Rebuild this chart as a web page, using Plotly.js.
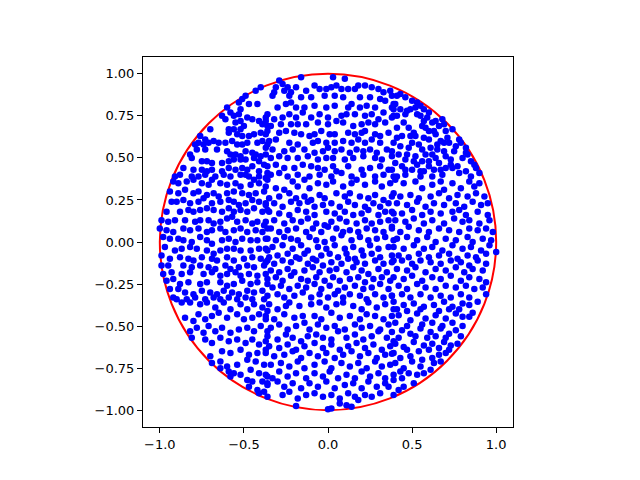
<!DOCTYPE html>
<html>
<head>
<meta charset="utf-8">
<script src="https://cdn.plot.ly/plotly-3.0.1.min.js"></script>
<style>html,body{margin:0;padding:0;background:#fff;}#chart{width:640px;height:480px;}</style>
</head>
<body>
<div id="chart"></div>
<script>
// Points, grouped by region of the disc: [x, y]
const upperLeft = [[-0.40,0.92],[-0.43,0.90],[-0.49,0.87],[-0.51,0.85],[-0.47,0.82],[-0.53,0.83],[-0.42,0.82],[-0.60,0.80],[-0.58,0.77],[-0.56,0.75],[-0.53,0.76],[-0.52,0.79],[-0.63,0.75],[-0.61,0.73],[-0.55,0.71],[-0.52,0.72],[-0.48,0.74],[-0.45,0.73],[-0.41,0.72],[-0.37,0.74],[-0.39,0.70],[-0.36,0.69],[-0.50,0.69],[-0.52,0.67],[-0.56,0.67],[-0.59,0.67],[-0.70,0.67],[-0.59,0.65],[-0.54,0.64],[-0.51,0.63],[-0.47,0.63],[-0.44,0.64],[-0.40,0.65],[-0.37,0.64],[-0.76,0.63],[-0.73,0.61],[-0.77,0.59],[-0.71,0.59],[-0.68,0.60],[-0.65,0.59],[-0.61,0.59],[-0.57,0.60],[-0.54,0.58],[-0.51,0.58],[-0.48,0.59],[-0.42,0.59],[-0.39,0.60],[-0.36,0.58],[-0.79,0.58],[-0.74,0.58],[-0.82,0.52],[-0.78,0.55],[-0.73,0.55],[-0.66,0.55],[-0.60,0.54],[-0.58,0.52],[-0.55,0.52],[-0.52,0.51],[-0.49,0.54],[-0.45,0.53],[-0.43,0.52],[-0.40,0.51],[-0.37,0.52],[-0.81,0.50],[-0.75,0.48],[-0.72,0.48],[-0.69,0.47],[-0.63,0.47],[-0.59,0.48],[-0.56,0.49],[-0.52,0.49],[-0.49,0.49],[-0.44,0.50],[-0.41,0.48],[-0.38,0.46],[-0.86,0.44],[-0.80,0.43],[-0.75,0.43],[-0.72,0.42],[-0.69,0.43],[-0.63,0.42],[-0.59,0.44],[-0.55,0.43],[-0.51,0.44],[-0.48,0.43],[-0.45,0.45],[-0.41,0.42],[-0.36,0.41],[-0.91,0.39],[-0.88,0.40],[-0.81,0.39],[-0.77,0.39],[-0.73,0.40],[-0.67,0.39],[-0.62,0.40],[-0.58,0.39],[-0.52,0.40],[-0.49,0.40],[-0.47,0.39],[-0.41,0.39],[-0.37,0.38]];

const upperMid = [[-0.16,0.98],[0.03,0.98],[0.10,0.97],[-0.29,0.96],[-0.31,0.92],[-0.27,0.94],[-0.24,0.92],[-0.19,0.92],[-0.26,0.90],[-0.22,0.89],[-0.13,0.90],[-0.08,0.93],[-0.05,0.91],[-0.01,0.91],[0.02,0.92],[0.05,0.93],[0.08,0.91],[0.12,0.91],[0.16,0.91],[0.18,0.93],[0.22,0.93],[0.26,0.92],[0.30,0.91],[0.33,0.89],[0.37,0.90],[-0.33,0.87],[-0.32,0.89],[-0.23,0.87],[-0.16,0.86],[-0.10,0.86],[-0.02,0.87],[0.04,0.87],[0.09,0.86],[0.19,0.86],[0.25,0.86],[0.31,0.85],[0.34,0.84],[0.39,0.82],[-0.30,0.80],[-0.25,0.82],[-0.22,0.83],[-0.19,0.80],[-0.14,0.80],[-0.08,0.81],[-0.01,0.80],[0.04,0.81],[0.12,0.80],[0.14,0.82],[0.19,0.80],[0.23,0.81],[0.28,0.80],[0.38,0.80],[-0.36,0.76],[-0.32,0.73],[-0.27,0.74],[-0.23,0.76],[-0.19,0.74],[-0.15,0.77],[-0.10,0.74],[-0.05,0.76],[0.00,0.74],[0.08,0.75],[0.11,0.76],[0.16,0.76],[0.22,0.75],[0.26,0.76],[0.30,0.73],[0.33,0.77],[0.39,0.75],[-0.37,0.72],[-0.34,0.69],[-0.28,0.70],[-0.22,0.70],[-0.18,0.70],[-0.13,0.70],[-0.06,0.71],[0.00,0.70],[0.05,0.72],[0.09,0.71],[0.15,0.69],[0.20,0.70],[0.24,0.71],[0.28,0.70],[0.34,0.71],[-0.36,0.66],[-0.29,0.65],[-0.25,0.66],[-0.20,0.65],[-0.16,0.64],[-0.11,0.63],[-0.08,0.64],[-0.04,0.66],[0.01,0.64],[0.04,0.64],[0.12,0.65],[0.16,0.64],[0.20,0.65],[0.22,0.66],[0.28,0.64],[0.31,0.63],[0.36,0.65],[-0.35,0.60],[-0.31,0.61],[-0.23,0.59],[-0.18,0.58],[-0.09,0.59],[-0.06,0.60],[-0.01,0.59],[0.04,0.59],[0.09,0.60],[0.14,0.59],[0.18,0.61],[0.22,0.59],[0.26,0.61],[0.31,0.59],[0.39,0.59],[-0.37,0.56],[-0.33,0.55],[-0.26,0.54],[-0.21,0.55],[-0.14,0.55],[-0.08,0.53],[-0.03,0.54],[0.00,0.56],[0.04,0.54],[0.08,0.55],[0.13,0.53],[0.17,0.55],[0.21,0.54],[0.25,0.55],[0.29,0.53],[0.35,0.55],[-0.34,0.50],[-0.29,0.51],[-0.24,0.50],[-0.18,0.50],[-0.12,0.51],[-0.06,0.49],[-0.01,0.50],[0.03,0.50],[0.10,0.49],[0.15,0.50],[0.21,0.51],[0.28,0.50],[0.32,0.49],[0.38,0.51],[-0.36,0.45],[-0.31,0.46],[-0.26,0.44],[-0.20,0.44],[-0.15,0.46],[-0.10,0.45],[-0.06,0.44],[-0.02,0.43],[0.03,0.45],[0.05,0.42],[0.12,0.45],[0.20,0.43],[0.25,0.44],[0.31,0.45],[0.36,0.43],[-0.34,0.40],[-0.29,0.41],[-0.24,0.39],[-0.18,0.40],[-0.11,0.39],[-0.05,0.40],[0.02,0.39],[0.08,0.41],[0.14,0.39],[0.21,0.40],[0.28,0.39],[0.33,0.40],[0.39,0.39]];

const upperRight = [[0.38,0.87],[0.41,0.87],[0.43,0.88],[0.40,0.82],[0.53,0.83],[0.55,0.81],[0.52,0.80],[0.57,0.79],[0.47,0.78],[0.49,0.79],[0.46,0.76],[0.41,0.75],[0.38,0.74],[0.55,0.75],[0.60,0.77],[0.64,0.72],[0.68,0.73],[0.69,0.70],[0.66,0.69],[0.74,0.67],[0.60,0.66],[0.63,0.66],[0.56,0.69],[0.51,0.65],[0.49,0.63],[0.52,0.63],[0.44,0.63],[0.41,0.62],[0.57,0.62],[0.60,0.61],[0.67,0.60],[0.69,0.59],[0.72,0.59],[0.65,0.58],[0.79,0.59],[0.50,0.59],[0.54,0.58],[0.56,0.55],[0.61,0.56],[0.65,0.55],[0.69,0.54],[0.75,0.54],[0.82,0.53],[0.83,0.52],[0.47,0.52],[0.42,0.52],[0.38,0.54],[0.52,0.51],[0.58,0.52],[0.60,0.48],[0.56,0.48],[0.51,0.48],[0.46,0.49],[0.40,0.47],[0.66,0.47],[0.73,0.46],[0.73,0.49],[0.85,0.48],[0.87,0.46],[0.88,0.44],[0.38,0.43],[0.46,0.43],[0.50,0.43],[0.55,0.42],[0.63,0.43],[0.70,0.44],[0.74,0.44],[0.90,0.41],[0.41,0.39],[0.46,0.40],[0.55,0.39],[0.62,0.39],[0.68,0.40],[0.85,0.39],[0.78,0.61],[0.82,0.56],[0.71,0.62],[0.64,0.64],[0.58,0.68],[0.62,0.71],[0.59,0.74],[0.53,0.76],[0.45,0.71],[0.48,0.68],[0.43,0.79],[0.50,0.84],[0.46,0.86],[0.57,0.72],[0.70,0.66],[0.76,0.57],[0.80,0.50],[0.77,0.45],[0.82,0.42],[0.64,0.50],[0.70,0.51],[0.60,0.45],[0.53,0.46],[0.44,0.45],[0.48,0.56],[0.43,0.57],[0.41,0.68],[0.39,0.79],[0.62,0.52],[0.67,0.43],[0.78,0.41],[0.57,0.42]];

const middleLeft = [[-0.92,0.36],[-0.89,0.35],[-0.84,0.36],[-0.80,0.37],[-0.75,0.35],[-0.71,0.34],[-0.69,0.37],[-0.64,0.35],[-0.60,0.34],[-0.55,0.35],[-0.52,0.33],[-0.46,0.34],[-0.44,0.37],[-0.41,0.35],[-0.37,0.33],[-0.94,0.30],[-0.89,0.29],[-0.85,0.31],[-0.80,0.29],[-0.77,0.30],[-0.72,0.28],[-0.68,0.29],[-0.65,0.27],[-0.60,0.29],[-0.56,0.30],[-0.51,0.29],[-0.47,0.28],[-0.43,0.29],[-0.38,0.30],[-0.93,0.24],[-0.90,0.24],[-0.86,0.25],[-0.82,0.23],[-0.77,0.24],[-0.74,0.26],[-0.69,0.23],[-0.64,0.24],[-0.59,0.25],[-0.56,0.24],[-0.53,0.22],[-0.49,0.23],[-0.45,0.25],[-0.41,0.24],[-0.37,0.23],[-0.96,0.18],[-0.88,0.18],[-0.83,0.19],[-0.80,0.18],[-0.76,0.19],[-0.72,0.20],[-0.68,0.19],[-0.63,0.18],[-0.59,0.20],[-0.56,0.18],[-0.52,0.19],[-0.48,0.18],[-0.44,0.20],[-0.39,0.18],[-0.36,0.19],[-0.99,0.13],[-0.95,0.12],[-0.91,0.13],[-0.85,0.13],[-0.79,0.12],[-0.76,0.13],[-0.71,0.13],[-0.68,0.11],[-0.64,0.12],[-0.60,0.14],[-0.57,0.15],[-0.54,0.12],[-0.49,0.13],[-0.45,0.11],[-0.42,0.12],[-0.38,0.10],[-1.00,0.08],[-0.96,0.07],[-0.92,0.06],[-0.86,0.08],[-0.82,0.07],[-0.77,0.08],[-0.72,0.06],[-0.69,0.07],[-0.64,0.08],[-0.61,0.06],[-0.56,0.07],[-0.52,0.08],[-0.48,0.06],[-0.43,0.07],[-0.39,0.06],[-0.36,0.08],[-0.98,0.03],[-0.94,0.02],[-0.89,0.02],[-0.86,0.01],[-0.81,0.00],[-0.76,0.03],[-0.72,0.01],[-0.69,-0.01],[-0.63,0.01],[-0.59,0.02],[-0.55,0.00],[-0.51,0.02],[-0.46,0.01],[-0.42,0.01],[-0.37,0.02],[-0.97,-0.03],[-0.91,-0.05],[-0.87,-0.04],[-0.82,-0.03],[-0.78,-0.04],[-0.72,-0.05],[-0.68,-0.07],[-0.64,-0.05],[-0.60,-0.04],[-0.56,-0.04],[-0.52,-0.05],[-0.46,-0.05],[-0.41,-0.04],[-0.36,-0.05],[-0.99,-0.08],[-0.94,-0.10],[-0.88,-0.09],[-0.83,-0.10],[-0.80,-0.11],[-0.75,-0.09],[-0.69,-0.10],[-0.66,-0.11],[-0.60,-0.09],[-0.56,-0.11],[-0.50,-0.10],[-0.45,-0.09],[-0.40,-0.10],[-0.36,-0.11],[-0.99,-0.14],[-0.95,-0.14],[-0.86,-0.14],[-0.81,-0.15],[-0.76,-0.14],[-0.71,-0.15],[-0.67,-0.16],[-0.61,-0.14],[-0.58,-0.16],[-0.53,-0.15],[-0.48,-0.14],[-0.44,-0.15],[-0.38,-0.14],[-0.98,-0.19],[-0.93,-0.18],[-0.87,-0.19],[-0.82,-0.18],[-0.74,-0.19],[-0.69,-0.18],[-0.64,-0.20],[-0.60,-0.19],[-0.55,-0.18],[-0.52,-0.20],[-0.47,-0.19],[-0.42,-0.20],[-0.37,-0.19],[-0.96,-0.23],[-0.92,-0.22],[-0.88,-0.25],[-0.83,-0.24],[-0.76,-0.25],[-0.72,-0.24],[-0.64,-0.24],[-0.60,-0.26],[-0.56,-0.25],[-0.51,-0.23],[-0.46,-0.25],[-0.42,-0.24],[-0.36,-0.25],[-0.94,-0.28],[-0.89,-0.28],[-0.85,-0.30],[-0.80,-0.31],[-0.75,-0.29],[-0.70,-0.30],[-0.66,-0.31],[-0.62,-0.29],[-0.57,-0.30],[-0.53,-0.31],[-0.48,-0.29],[-0.44,-0.30],[-0.39,-0.29],[-0.92,-0.33],[-0.90,-0.34],[-0.84,-0.34],[-0.79,-0.33],[-0.73,-0.34],[-0.68,-0.33],[-0.64,-0.34],[-0.59,-0.33],[-0.54,-0.34],[-0.49,-0.33],[-0.45,-0.34],[-0.38,-0.34]];

const centre = [[-0.36,0.37],[-0.31,0.32],[-0.26,0.31],[-0.21,0.36],[-0.18,0.33],[-0.14,0.37],[-0.11,0.32],[-0.06,0.35],[-0.01,0.34],[0.03,0.36],[0.09,0.33],[0.14,0.35],[0.17,0.37],[0.22,0.34],[0.28,0.36],[0.32,0.33],[0.37,0.35],[-0.35,0.26],[-0.29,0.27],[-0.23,0.29],[-0.19,0.26],[-0.14,0.27],[-0.10,0.25],[-0.05,0.28],[-0.02,0.26],[0.05,0.29],[0.10,0.27],[0.13,0.29],[0.19,0.27],[0.24,0.26],[0.28,0.28],[0.33,0.25],[0.38,0.27],[-0.37,0.22],[-0.32,0.23],[-0.27,0.21],[-0.22,0.24],[-0.17,0.23],[-0.12,0.24],[-0.08,0.21],[-0.03,0.22],[0.02,0.23],[0.07,0.21],[0.12,0.24],[0.16,0.22],[0.22,0.21],[0.27,0.23],[0.31,0.21],[0.36,0.23],[-0.35,0.18],[-0.29,0.17],[-0.23,0.16],[-0.18,0.19],[-0.13,0.18],[-0.08,0.16],[-0.01,0.18],[0.04,0.17],[0.10,0.18],[0.15,0.16],[0.20,0.17],[0.24,0.19],[0.30,0.16],[0.34,0.18],[0.39,0.17],[-0.37,0.12],[-0.32,0.13],[-0.26,0.11],[-0.21,0.13],[-0.16,0.12],[-0.12,0.14],[-0.07,0.11],[-0.02,0.10],[0.02,0.12],[0.07,0.14],[0.11,0.12],[0.17,0.11],[0.22,0.13],[0.26,0.11],[0.31,0.12],[0.36,0.13],[-0.34,0.08],[-0.29,0.06],[-0.24,0.07],[-0.19,0.08],[-0.13,0.06],[-0.09,0.08],[-0.04,0.06],[0.00,0.09],[0.05,0.08],[0.09,0.06],[0.13,0.07],[0.18,0.06],[0.23,0.08],[0.28,0.07],[0.33,0.06],[0.38,0.09],[-0.36,0.02],[-0.31,0.01],[-0.26,0.03],[-0.22,0.02],[-0.18,0.01],[-0.11,0.03],[-0.07,0.01],[-0.02,0.00],[0.03,0.02],[0.08,0.04],[0.14,0.01],[0.19,0.03],[0.24,0.01],[0.29,0.02],[0.34,0.03],[0.39,0.01],[-0.37,-0.04],[-0.33,-0.03],[-0.27,-0.02],[-0.21,-0.04],[-0.16,-0.02],[-0.12,-0.05],[-0.06,-0.03],[-0.01,-0.04],[0.04,-0.02],[0.10,-0.04],[0.15,-0.03],[0.20,-0.05],[0.25,-0.02],[0.30,-0.04],[0.36,-0.03],[-0.35,-0.09],[-0.30,-0.08],[-0.24,-0.07],[-0.19,-0.09],[-0.14,-0.07],[-0.09,-0.10],[-0.04,-0.08],[0.01,-0.07],[0.06,-0.09],[0.11,-0.07],[0.16,-0.10],[0.21,-0.08],[0.26,-0.07],[0.31,-0.09],[0.38,-0.08],[-0.37,-0.12],[-0.32,-0.13],[-0.27,-0.11],[-0.22,-0.12],[-0.17,-0.10],[-0.12,-0.13],[-0.07,-0.11],[-0.03,-0.14],[0.02,-0.12],[0.08,-0.13],[0.12,-0.10],[0.17,-0.12],[0.22,-0.13],[0.28,-0.11],[0.33,-0.13],[0.39,-0.11],[-0.34,-0.17],[-0.29,-0.18],[-0.24,-0.16],[-0.20,-0.18],[-0.14,-0.17],[-0.09,-0.15],[-0.05,-0.18],[0.01,-0.17],[0.05,-0.16],[0.11,-0.18],[0.15,-0.15],[0.20,-0.17],[0.24,-0.19],[0.30,-0.16],[0.35,-0.18],[-0.36,-0.22],[-0.31,-0.21],[-0.27,-0.23],[-0.22,-0.20],[-0.16,-0.22],[-0.12,-0.23],[-0.07,-0.21],[-0.02,-0.23],[0.03,-0.21],[0.07,-0.23],[0.13,-0.22],[0.18,-0.21],[0.22,-0.24],[0.27,-0.22],[0.32,-0.21],[0.37,-0.23],[-0.33,-0.27],[-0.28,-0.26],[-0.23,-0.28],[-0.18,-0.26],[-0.13,-0.27],[-0.08,-0.25],[-0.04,-0.28],[0.01,-0.26],[0.06,-0.29],[0.10,-0.27],[0.16,-0.26],[0.21,-0.28],[0.26,-0.27],[0.31,-0.25],[0.36,-0.28],[-0.36,-0.32],[-0.30,-0.31],[-0.26,-0.33],[-0.20,-0.32],[-0.15,-0.30],[-0.10,-0.33],[-0.05,-0.31],[0.00,-0.33],[0.04,-0.31],[0.09,-0.33],[0.13,-0.31],[0.19,-0.32],[0.23,-0.34],[0.28,-0.31],[0.33,-0.33],[0.38,-0.32]];

const middleRight = [[0.40,0.37],[0.45,0.35],[0.52,0.36],[0.56,0.32],[0.62,0.34],[0.67,0.36],[0.69,0.31],[0.74,0.35],[0.79,0.32],[0.84,0.36],[0.87,0.33],[0.90,0.35],[0.39,0.29],[0.43,0.27],[0.49,0.28],[0.54,0.26],[0.61,0.27],[0.66,0.29],[0.72,0.26],[0.77,0.28],[0.83,0.27],[0.88,0.29],[0.93,0.27],[0.41,0.23],[0.47,0.22],[0.53,0.24],[0.58,0.21],[0.63,0.23],[0.69,0.22],[0.76,0.23],[0.81,0.21],[0.86,0.24],[0.91,0.22],[0.95,0.23],[0.38,0.18],[0.44,0.17],[0.50,0.19],[0.56,0.16],[0.61,0.18],[0.67,0.17],[0.74,0.18],[0.78,0.19],[0.82,0.16],[0.89,0.18],[0.95,0.16],[0.40,0.13],[0.46,0.12],[0.51,0.14],[0.57,0.11],[0.62,0.13],[0.69,0.11],[0.75,0.14],[0.80,0.12],[0.84,0.13],[0.90,0.11],[0.96,0.13],[0.38,0.08],[0.43,0.06],[0.48,0.09],[0.54,0.07],[0.60,0.06],[0.66,0.08],[0.72,0.07],[0.78,0.06],[0.84,0.08],[0.89,0.07],[0.94,0.08],[0.98,0.06],[0.41,0.02],[0.47,0.03],[0.53,0.01],[0.59,0.03],[0.64,0.00],[0.70,0.02],[0.76,0.01],[0.83,0.03],[0.86,0.00],[0.92,0.02],[0.97,0.01],[0.39,-0.03],[0.45,-0.04],[0.51,-0.02],[0.57,-0.04],[0.62,-0.03],[0.68,-0.05],[0.74,-0.02],[0.80,-0.04],[0.85,-0.03],[0.91,-0.05],[0.96,-0.02],[0.42,-0.08],[0.48,-0.09],[0.54,-0.07],[0.60,-0.09],[0.66,-0.08],[0.72,-0.07],[0.77,-0.10],[0.83,-0.08],[0.88,-0.09],[0.94,-0.07],[1.00,-0.06],[0.38,-0.12],[0.44,-0.11],[0.50,-0.13],[0.55,-0.11],[0.61,-0.12],[0.67,-0.13],[0.73,-0.11],[0.79,-0.12],[0.84,-0.14],[0.89,-0.11],[0.94,-0.13],[0.41,-0.16],[0.47,-0.17],[0.52,-0.15],[0.58,-0.18],[0.64,-0.16],[0.70,-0.17],[0.76,-0.15],[0.81,-0.18],[0.86,-0.16],[0.92,-0.17],[0.39,-0.21],[0.45,-0.22],[0.50,-0.20],[0.56,-0.23],[0.62,-0.21],[0.67,-0.22],[0.73,-0.20],[0.79,-0.23],[0.84,-0.21],[0.90,-0.22],[0.94,-0.24],[0.42,-0.26],[0.47,-0.28],[0.53,-0.25],[0.58,-0.27],[0.64,-0.28],[0.70,-0.26],[0.76,-0.27],[0.82,-0.26],[0.87,-0.28],[0.92,-0.27],[0.38,-0.32],[0.44,-0.31],[0.49,-0.33],[0.55,-0.31],[0.61,-0.33],[0.67,-0.32],[0.73,-0.33],[0.79,-0.31],[0.84,-0.33],[0.94,-0.31]];

const lowerLeft = [[-0.87,-0.36],[-0.82,-0.36],[-0.76,-0.37],[-0.72,-0.36],[-0.67,-0.39],[-0.62,-0.36],[-0.58,-0.40],[-0.52,-0.37],[-0.48,-0.40],[-0.44,-0.37],[-0.39,-0.39],[-0.36,-0.41],[-0.85,-0.45],[-0.80,-0.47],[-0.77,-0.43],[-0.73,-0.46],[-0.69,-0.44],[-0.65,-0.42],[-0.60,-0.45],[-0.54,-0.43],[-0.50,-0.46],[-0.45,-0.45],[-0.41,-0.43],[-0.37,-0.46],[-0.82,-0.53],[-0.78,-0.51],[-0.74,-0.54],[-0.71,-0.50],[-0.67,-0.53],[-0.63,-0.51],[-0.58,-0.54],[-0.53,-0.52],[-0.48,-0.51],[-0.44,-0.53],[-0.40,-0.50],[-0.36,-0.53],[-0.81,-0.57],[-0.73,-0.58],[-0.69,-0.60],[-0.64,-0.57],[-0.59,-0.59],[-0.54,-0.58],[-0.49,-0.60],[-0.45,-0.58],[-0.41,-0.61],[-0.37,-0.59],[-0.70,-0.68],[-0.63,-0.65],[-0.58,-0.66],[-0.52,-0.64],[-0.47,-0.67],[-0.42,-0.66],[-0.37,-0.64],[-0.69,-0.72],[-0.64,-0.71],[-0.60,-0.74],[-0.54,-0.73],[-0.48,-0.70],[-0.43,-0.71],[-0.38,-0.73],[-0.64,-0.75],[-0.59,-0.77],[-0.56,-0.78],[-0.58,-0.80],[-0.52,-0.79],[-0.46,-0.76],[-0.41,-0.78],[-0.36,-0.80],[-0.48,-0.82],[-0.45,-0.83],[-0.39,-0.83],[-0.36,-0.85],[-0.47,-0.86],[-0.42,-0.88],[-0.38,-0.89],[-0.41,-0.90],[-0.36,-0.92]];

const lowerMid = [[-0.35,-0.37],[-0.30,-0.40],[-0.25,-0.38],[-0.23,-0.36],[-0.17,-0.38],[-0.10,-0.37],[-0.05,-0.36],[-0.01,-0.39],[0.05,-0.37],[0.09,-0.36],[0.15,-0.38],[0.20,-0.40],[0.24,-0.36],[0.29,-0.39],[0.34,-0.37],[0.39,-0.40],[-0.37,-0.44],[-0.32,-0.46],[-0.26,-0.43],[-0.20,-0.45],[-0.15,-0.44],[-0.08,-0.44],[-0.04,-0.46],[0.02,-0.42],[0.07,-0.45],[0.13,-0.44],[0.19,-0.46],[0.23,-0.43],[0.28,-0.44],[0.33,-0.46],[0.38,-0.44],[-0.34,-0.51],[-0.29,-0.49],[-0.24,-0.52],[-0.19,-0.50],[-0.14,-0.48],[-0.11,-0.52],[-0.06,-0.49],[-0.01,-0.51],[0.04,-0.50],[0.10,-0.52],[0.16,-0.49],[0.20,-0.51],[0.25,-0.50],[0.31,-0.52],[0.36,-0.49],[-0.36,-0.56],[-0.30,-0.58],[-0.25,-0.55],[-0.21,-0.57],[-0.16,-0.59],[-0.12,-0.56],[-0.07,-0.55],[-0.03,-0.57],[0.02,-0.58],[0.06,-0.53],[0.11,-0.57],[0.16,-0.55],[0.21,-0.58],[0.26,-0.56],[0.30,-0.53],[0.35,-0.57],[0.39,-0.59],[-0.35,-0.62],[-0.29,-0.63],[-0.24,-0.61],[-0.19,-0.64],[-0.14,-0.62],[-0.08,-0.60],[-0.03,-0.63],[0.02,-0.61],[0.07,-0.64],[0.12,-0.62],[0.17,-0.60],[0.22,-0.63],[0.27,-0.61],[0.32,-0.64],[0.37,-0.62],[-0.37,-0.66],[-0.32,-0.68],[-0.26,-0.67],[-0.21,-0.65],[-0.16,-0.69],[-0.11,-0.66],[-0.06,-0.68],[-0.01,-0.66],[0.04,-0.69],[0.09,-0.67],[0.14,-0.65],[0.19,-0.68],[0.24,-0.66],[0.29,-0.69],[0.34,-0.67],[0.39,-0.66],[-0.34,-0.73],[-0.28,-0.72],[-0.23,-0.74],[-0.18,-0.71],[-0.14,-0.75],[-0.08,-0.73],[-0.02,-0.71],[0.02,-0.75],[0.08,-0.72],[0.13,-0.74],[0.18,-0.72],[0.23,-0.75],[0.28,-0.71],[0.32,-0.74],[0.37,-0.73],[-0.37,-0.79],[-0.33,-0.81],[-0.29,-0.77],[-0.24,-0.80],[-0.19,-0.78],[-0.13,-0.81],[-0.08,-0.78],[-0.03,-0.80],[0.01,-0.77],[0.06,-0.81],[0.11,-0.79],[0.16,-0.81],[0.20,-0.77],[0.25,-0.80],[0.30,-0.78],[0.34,-0.81],[0.39,-0.79],[-0.36,-0.84],[-0.30,-0.83],[-0.26,-0.86],[-0.21,-0.84],[-0.16,-0.87],[-0.11,-0.84],[-0.06,-0.86],[-0.01,-0.83],[0.04,-0.87],[0.10,-0.85],[0.15,-0.84],[0.20,-0.87],[0.24,-0.83],[0.29,-0.86],[0.34,-0.84],[-0.27,-0.91],[-0.23,-0.89],[-0.18,-0.93],[-0.13,-0.91],[-0.08,-0.90],[-0.03,-0.92],[0.02,-0.91],[0.07,-0.93],[0.12,-0.90],[0.16,-0.92],[0.22,-0.91],[0.26,-0.92],[0.31,-0.90],[-0.19,-0.975],[0.00,-0.995],[0.02,-0.99],[0.07,-0.96],[0.11,-0.97],[0.14,-0.98],[0.18,-0.94]];

const lowerRight = [[0.39,-0.355],[0.45,-0.375],[0.51,-0.365],[0.57,-0.385],[0.63,-0.375],[0.69,-0.355],[0.74,-0.385],[0.80,-0.365],[0.84,-0.375],[0.89,-0.355],[0.42,-0.435],[0.49,-0.465],[0.53,-0.425],[0.58,-0.455],[0.64,-0.435],[0.70,-0.455],[0.76,-0.425],[0.80,-0.445],[0.84,-0.445],[0.38,-0.535],[0.44,-0.525],[0.49,-0.545],[0.55,-0.515],[0.61,-0.535],[0.67,-0.515],[0.72,-0.545],[0.76,-0.525],[0.40,-0.605],[0.45,-0.625],[0.51,-0.595],[0.57,-0.615],[0.62,-0.605],[0.69,-0.595],[0.73,-0.615],[0.77,-0.605],[0.38,-0.665],[0.43,-0.69],[0.49,-0.68],[0.56,-0.70],[0.62,-0.69],[0.66,-0.67],[0.70,-0.66],[0.72,-0.64],[0.40,-0.72],[0.45,-0.75],[0.50,-0.71],[0.55,-0.74],[0.61,-0.76],[0.63,-0.72],[0.67,-0.71],[0.39,-0.82],[0.44,-0.81],[0.48,-0.78],[0.51,-0.84],[0.45,-0.86],[0.42,-0.88],[0.39,-0.91],[0.41,-0.40],[0.47,-0.41],[0.55,-0.40],[0.66,-0.41],[0.72,-0.40],[0.78,-0.40],[0.86,-0.42],[0.40,-0.48],[0.47,-0.50],[0.56,-0.49],[0.62,-0.48],[0.68,-0.50],[0.74,-0.48],[0.80,-0.50],[0.42,-0.57],[0.52,-0.56],[0.59,-0.57],[0.64,-0.56],[0.70,-0.57],[0.79,-0.56],[0.47,-0.64],[0.54,-0.65],[0.60,-0.64],[0.66,-0.63],[0.43,-0.77],[0.53,-0.79],[0.57,-0.78],[0.36,-0.86]];

// Unit circle outline
const circleCentre = [0, 0];
const circleRadius = 1;

// Axis ticks
const xTickVals = [-1.0, -0.5, 0.0, 0.5, 1.0];
const xTickText = ['\u22121.0', '\u22120.5', '0.0', '0.5', '1.0'];
const yTickVals = [1.0, 0.75, 0.5, 0.25, 0.0, -0.25, -0.5, -0.75, -1.0];
const yTickText = ['1.00', '0.75', '0.50', '0.25', '0.00', '\u22120.25', '\u22120.50', '\u22120.75', '\u22121.00'];
const axisRange = [-1.1, 1.1];

const allPts = [].concat(upperLeft, upperMid, upperRight, middleLeft, centre, middleRight, lowerLeft, lowerMid, lowerRight);

const trace = {
  type: 'scatter',
  mode: 'markers',
  x: allPts.map(p => p[0]),
  y: allPts.map(p => p[1]),
  marker: {color: '#0000ff', size: 6.5, line: {width: 0}},
  hoverinfo: 'x+y',
  showlegend: false
};

const axisCommon = {
  showgrid: false,
  zeroline: false,
  showline: true,
  linecolor: '#000',
  linewidth: 1,
  mirror: true,
  ticks: 'outside',
  ticklen: 5,
  tickwidth: 1,
  tickcolor: '#000',
  tickfont: {family: 'DejaVu Sans', size: 13, color: '#000'},
  range: axisRange,
  fixedrange: true
};

const layout = {
  width: 640,
  height: 480,
  margin: {l: 143, r: 127, t: 57, b: 53},
  paper_bgcolor: '#fff',
  plot_bgcolor: '#fff',
  xaxis: Object.assign({}, axisCommon, {tickmode: 'array', tickvals: xTickVals, ticktext: xTickText}),
  yaxis: Object.assign({}, axisCommon, {tickmode: 'array', tickvals: yTickVals, ticktext: yTickText}),
  shapes: [{
    type: 'circle', xref: 'x', yref: 'y', layer: 'below',
    x0: circleCentre[0] - circleRadius, x1: circleCentre[0] + circleRadius,
    y0: circleCentre[1] - circleRadius, y1: circleCentre[1] + circleRadius,
    line: {color: '#ff0000', width: 2}
  }],
  showlegend: false
};

Plotly.newPlot('chart', [trace], layout, {displayModeBar: false, staticPlot: true});
</script>
</body>
</html>
